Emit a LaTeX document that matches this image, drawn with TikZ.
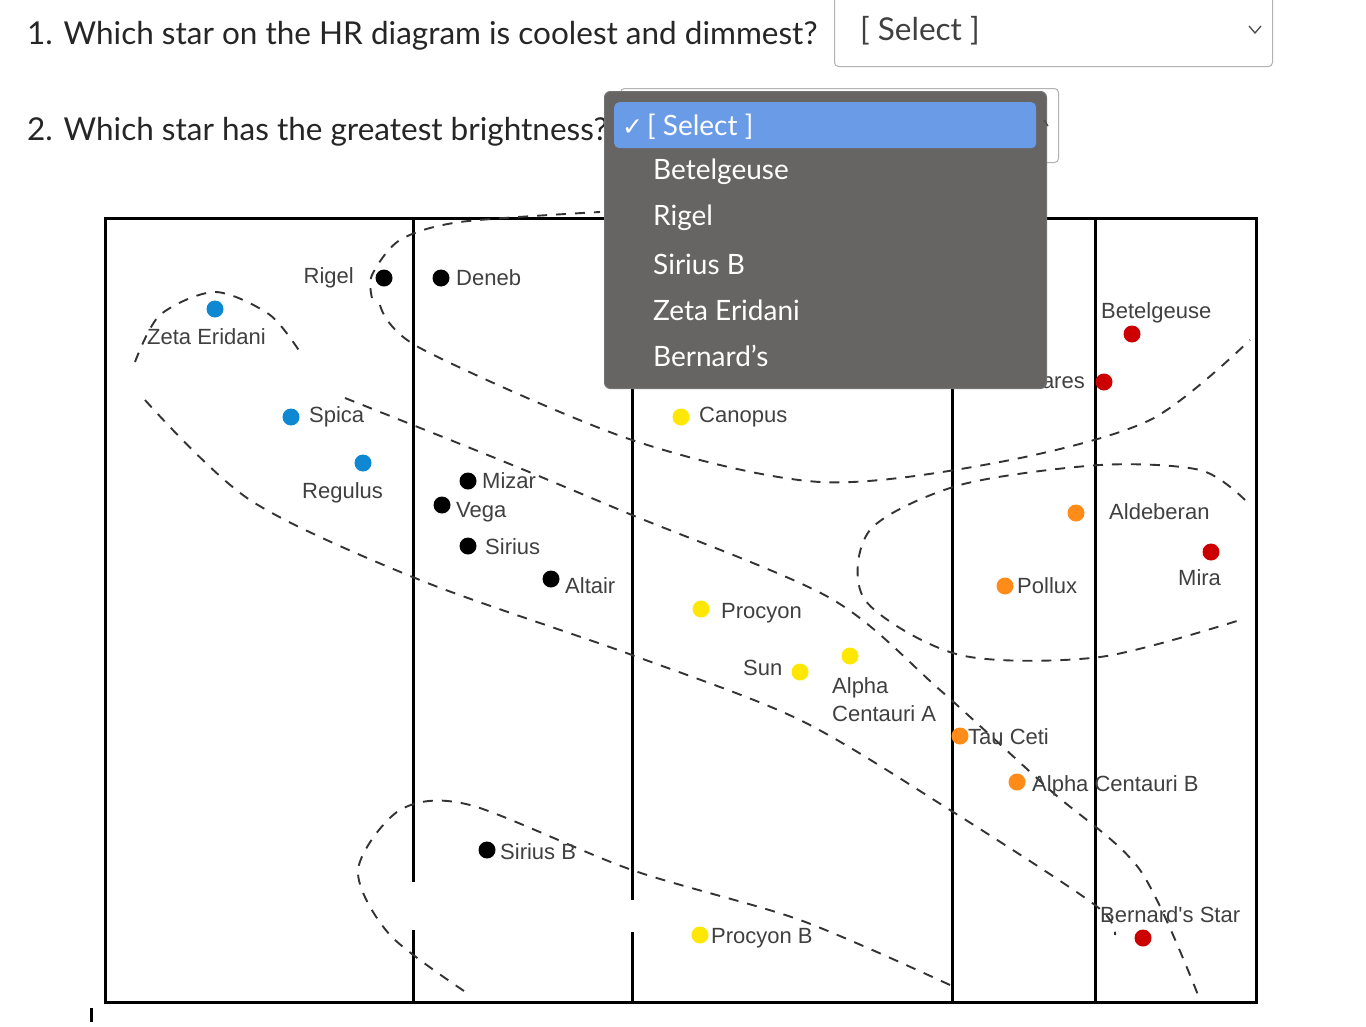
\documentclass[tikz,border=0pt]{standalone}
\usepackage{fontspec}
\setmainfont{Lato}
\newfontfamily\chartfont{Liberation Sans}
\newfontfamily\symfont{DejaVu Sans}
\definecolor{hlblue}{HTML}{6A9BE6}
\definecolor{menugray}{HTML}{676464}
\begin{document}
\begin{tikzpicture}[x=1pt,y=-1pt,
  q/.style={anchor=west,inner sep=0pt,text=black!85,font=\fontsize{31.5}{32}\selectfont},
  item/.style={anchor=west,inner sep=0pt,text=white,font=\fontsize{28}{29}\selectfont},
  lab/.style={inner sep=0pt,text=black!75,font=\chartfont\fontsize{22}{24}\selectfont},
  dot/.style={circle,fill=#1,inner sep=0pt,minimum size=17pt},
  dsh/.style={draw=black!80,line width=1.9pt,dash pattern=on 10pt off 9pt},
  grid/.style={draw=black,line width=3pt}]
\useasboundingbox (0,0) rectangle (1366,1026);
\fill[white] (0,0) rectangle (1366,1026);
% questions
\node[q] (q1) at (27,36) {1. Which star on the HR diagram is coolest and dimmest?};
\node[draw=black!30,line width=1pt,rounded corners=4pt,minimum width=438pt,minimum height=70pt,anchor=north west] (s1) at (834,-4) {};
\node[q,text=black!75] (s1t) at (860,31) {[ Select ]};
\draw[black!70,line width=1.3pt] (1249,26) -- (1255,33) -- (1261,26);
\node[q] (q2) at (27,132) {2. Which star has the greatest brightness?};
\node[draw=black!30,line width=1pt,rounded corners=4pt,minimum width=438pt,minimum height=74pt,anchor=north west] (s2) at (620,88) {};
% chart frame
\draw[grid] (105,218) rectangle (1256,1002);
\foreach \x in {413,632,952,1095} \draw[grid] (\x,218) -- (\x,1002);
% dashed curves
\draw[dsh] plot[smooth] coordinates {(135,362) (160,315) (215,292) (270,315) (302,355)};
\draw[dsh] plot[smooth] coordinates {(372,298) (372,275) (400,240) (460,222) (600,212)};
\draw[dsh] plot[smooth] coordinates {(380,305) (420,348) (632,440) (820,482) (1000,462) (1150,420) (1250,340)};
\draw[dsh] plot[smooth] coordinates {(345,398) (500,460) (632,515) (830,598) (940,690) (1050,790) (1140,870) (1200,1000)};
\draw[dsh] plot[smooth] coordinates {(145,400) (250,500) (420,580) (632,655) (800,720) (950,810) (1095,905) (1115,935)};
\draw[dsh] plot[smooth] coordinates {(1245,500) (1200,470) (1100,465) (960,485) (870,530) (865,600) (960,655) (1100,657) (1240,620)};
\draw[dsh] plot[smooth] coordinates {(950,985) (800,920) (632,870) (470,805) (400,810) (358,870) (390,935) (470,995)};
% gaps
\fill[white] (403,882) rectangle (423,930);
\fill[white] (622,900) rectangle (642,932);
% stars
\node[dot=black] (rigel) at (384,278) {}; \node[lab,anchor=east] at (354,278) {Rigel};
\node[dot=black] (deneb) at (441,278) {}; \node[lab,anchor=west] at (456,278) {Deneb};
\node[dot=cyan!70!blue] (zeta) at (215,309) {}; \node[lab,anchor=west] at (147,337) {Zeta Eridani};
\node[dot=cyan!70!blue] (spica) at (291,417) {}; \node[lab,anchor=west] at (309,417) {Spica};
\node[dot=cyan!70!blue] (regulus) at (363,463) {}; \node[lab,anchor=west] at (302,493) {Regulus};
\node[dot=black] (mizar) at (468,481) {}; \node[lab,anchor=west] at (482,481) {Mizar};
\node[dot=black] (vega) at (442,505) {}; \node[lab,anchor=west] at (456,512) {Vega};
\node[dot=black] (sirius) at (468,546) {}; \node[lab,anchor=west] at (485,547) {Sirius};
\node[dot=black] (altair) at (551,579) {}; \node[lab,anchor=west] at (565,586) {Altair};
\node[dot=yellow!90!orange] (canopus) at (681,417) {}; \node[lab,anchor=west] at (699,417) {Canopus};
\node[dot=yellow!90!orange] (procyon) at (701,609) {}; \node[lab,anchor=west] at (721,613) {Procyon};
\node[dot=yellow!90!orange] (sun) at (800,672) {}; \node[lab,anchor=west] at (743,668) {Sun};
\node[dot=yellow!90!orange] (aca) at (850,656) {}; \node[lab,anchor=west,align=left] at (832,700) {Alpha\\[4pt]Centauri A};
\node[dot=orange!90] (tau) at (960,736) {}; \node[lab,anchor=west] at (968,737) {Tau Ceti};
\node[dot=orange!90] (acb) at (1017,782) {}; \node[lab,anchor=west] at (1032,786) {Alpha Centauri B};
\node[dot=orange!90] (pollux) at (1005,586) {}; \node[lab,anchor=west] at (1017,586) {Pollux};
\node[dot=orange!90] (alde) at (1076,513) {}; \node[lab,anchor=west] at (1109,512) {Aldeberan};
\node[dot=red!80!black] (mira) at (1211,552) {}; \node[lab,anchor=west] at (1178,578) {Mira};
\node[dot=red!80!black] (betel) at (1132,334) {}; \node[lab,anchor=west] at (1101,313) {Betelgeuse};
\node[dot=red!80!black] (antares) at (1104,382) {}; \node[lab,anchor=east] at (1085,381) {Antares};
\node[dot=black] (siriusb) at (487,850) {}; \node[lab,anchor=west] at (500,852) {Sirius B};
\node[dot=yellow!90!orange] (procb) at (700,935) {}; \node[lab,anchor=west] at (711,938) {Procyon B};
\node[dot=red!80!black] (barn) at (1143,938) {}; \node[lab,anchor=west] at (1100,915) {Bernard's Star};
\draw[black,line width=3pt] (91,1008) -- (91,1022);
% dropdown menu
\node[draw=black!55,fill=menugray,line width=1pt,rounded corners=6pt,minimum width=442pt,minimum height=297pt,anchor=north west] (menu) at (604,91) {};
\node[fill=hlblue,rounded corners=5pt,minimum width=422pt,minimum height=46pt,anchor=north west] (hl) at (614,102) {};
\node[item] (i0) at (622,127) {{\symfont\bfseries\fontsize{25}{26}\selectfont ✓}\hspace{4pt}[ Select ]};
\node[item] (i1) at (653,172) {Betelgeuse};
\node[item] (i2) at (653,218) {Rigel};
\node[item] (i3) at (653,264) {Sirius B};
\node[item] (i4) at (653,310) {Zeta Eridani};
\node[item] (i5) at (653,356) {Bernard's};
\draw[black!70,line width=1.3pt] (1044,120) -- (1048,126);
\end{tikzpicture}
\end{document}
